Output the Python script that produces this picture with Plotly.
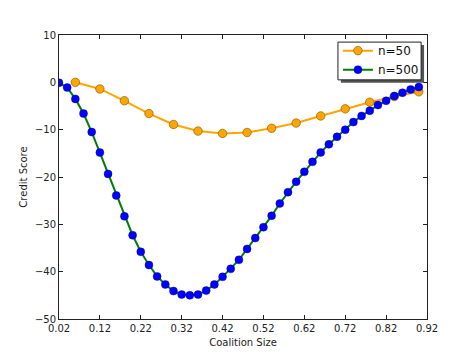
import plotly.graph_objects as go

x50 = [0.06, 0.12, 0.18, 0.24, 0.30, 0.36, 0.42, 0.48, 0.54, 0.60, 0.66, 0.72, 0.78, 0.84, 0.90]
y50 = [0.0, -1.4, -3.9, -6.6, -8.9, -10.3, -10.8, -10.6, -9.7, -8.6, -7.1, -5.6, -4.2, -3.0, -2.0]

x500 = [round(0.02 + 0.02 * i, 2) for i in range(45)]
y500 = [-0.1, -1.1, -3.5, -6.6, -10.5, -14.85, -19.35, -23.9, -28.3, -32.3,
        -35.8, -38.6, -41.0, -42.7, -44.1, -44.85, -45.0, -44.85, -44.0, -42.7,
        -41.1, -39.4, -37.5, -35.2, -32.9, -30.6, -28.2, -25.6, -23.2, -21.0,
        -18.9, -16.8, -14.8, -13.1, -11.5, -10.0, -8.4, -7.1, -6.0, -4.8,
        -3.9, -2.9, -2.2, -1.5, -1.0]

xticks = [0.02, 0.12, 0.22, 0.32, 0.42, 0.52, 0.62, 0.72, 0.82, 0.92]
yticks = [-50, -40, -30, -20, -10, 0, 10]
ytick_text = [("\u2212" + str(-v)) if v < 0 else str(v) for v in yticks]

fig = go.Figure()
fig.add_trace(go.Scatter(
    x=x50, y=y50, mode="lines+markers", name="n=50",
    line=dict(color="#FFA500", width=2),
    marker=dict(color="#FFA500", size=8.5, line=dict(color="#7a5200", width=0.6)),
))
fig.add_trace(go.Scatter(
    x=x500, y=y500, mode="lines+markers", name="n=500",
    line=dict(color="#008000", width=2),
    marker=dict(color="#0000FF", size=8, line=dict(color="#000080", width=0.4)),
))

axis_common = dict(
    showgrid=False, zeroline=False, showline=True, linecolor="#222", linewidth=1,
    mirror="ticks", ticks="inside", ticklen=4, tickcolor="#222", automargin=False,
    tickfont=dict(family="DejaVu Sans", size=10, color="#222"),
)

# legend frame (with shadow) in paper coordinates
lx0, lx1, ly0, ly1 = 0.758, 0.984, 0.842, 0.975
sdx, sdy = 0.008, 0.010

fig.update_layout(
    width=474, height=355,
    margin=dict(l=59, r=47, t=35, b=36),
    paper_bgcolor="white", plot_bgcolor="white",
    font=dict(family="DejaVu Sans", color="#222"),
    xaxis=dict(range=[0.02, 0.92], tickvals=xticks, ticktext=[f"{v:.2f}" for v in xticks],
               title=dict(text="Coalition Size", font=dict(size=10), standoff=5), **axis_common),
    yaxis=dict(range=[-50, 10], tickvals=yticks, ticktext=ytick_text,
               title=dict(text="Credit Score", font=dict(size=10), standoff=5), **axis_common),
    legend=dict(x=lx0, y=ly1 + 0.021, xanchor="left", yanchor="top",
                bgcolor="rgba(0,0,0,0)", borderwidth=0,
                font=dict(size=12, family="DejaVu Sans", color="#111"), tracegroupgap=0),
    shapes=[
        dict(type="rect", xref="paper", yref="paper",
             x0=lx0 + sdx, x1=lx1 + sdx, y0=ly0 - sdy, y1=ly1 - sdy,
             fillcolor="#555", line=dict(width=0), layer="above"),
        dict(type="rect", xref="paper", yref="paper",
             x0=lx0, x1=lx1, y0=ly0, y1=ly1,
             fillcolor="white", line=dict(color="#222", width=1), layer="above"),
    ],
    showlegend=True,
)

fig.write_html("out.html", config={"displayModeBar": False},
               post_script="document.body.style.margin='0';")
